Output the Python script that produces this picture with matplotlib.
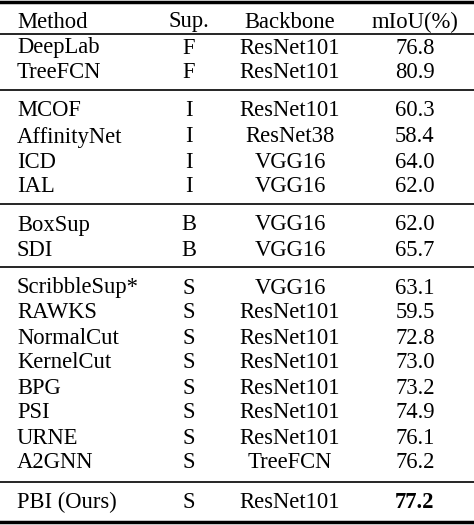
import matplotlib.pyplot as plt

methods = ["DeepLab", "TreeFCN", "MCOF", "AffinityNet", "ICD", "IAL", "BoxSup", "SDI",
           "ScribbleSup*", "RAWKS", "NormalCut", "KernelCut", "BPG", "PSI", "URNE", "A2GNN",
           "PBI (Ours)"]
sup = ["F", "F", "I", "I", "I", "I", "B", "B", "S", "S", "S", "S", "S", "S", "S", "S", "S"]
backbone = ["ResNet101", "ResNet101", "ResNet101", "ResNet38", "VGG16", "VGG16", "VGG16", "VGG16",
            "VGG16", "ResNet101", "ResNet101", "ResNet101", "ResNet101", "ResNet101", "ResNet101",
            "TreeFCN", "ResNet101"]
miou = ["76.8", "80.9", "60.3", "58.4", "64.0", "62.0", "62.0", "65.7", "63.1", "59.5", "72.8",
        "73.0", "73.2", "74.9", "76.1", "76.2", "77.2"]
headers = ["Method", "Sup.", "Backbone", "mIoU(%)"]

# row centres in pixels
row_y = [46, 71, 109, 135, 160, 185, 223, 248, 286, 311, 336, 361, 386, 411, 436, 461, 500]
rules = [(1.5, 2.5), (34, 1.2), (90, 1.2), (204, 1.2), (267, 1.2), (482, 1.2), (522, 2.5)]

plt.rcParams['font.family'] = ['Liberation Serif', 'DejaVu Serif']
fig = plt.figure(figsize=(4.74, 5.25), dpi=100)
ax = fig.add_axes([0, 0, 1, 1])
ax.set_xlim(0, 474)
ax.set_ylim(525, 0)
ax.axis('off')

fs = 16.3
dy = 2
col_x = [17, 189, 290, 415]
ax.text(col_x[0], 20 + dy, headers[0], fontsize=fs, ha='left', va='center')
for x, h in zip(col_x[1:], headers[1:]):
    ax.text(x, 20 + dy, h, fontsize=fs, ha='center', va='center')

for i, y in enumerate(row_y):
    y = y + dy
    ax.text(col_x[0], y, methods[i], fontsize=fs, ha='left', va='center')
    ax.text(col_x[1], y, sup[i], fontsize=fs, ha='center', va='center')
    ax.text(col_x[2], y, backbone[i], fontsize=fs, ha='center', va='center')
    bold = 'bold' if methods[i] == "PBI (Ours)" else 'normal'
    ax.text(col_x[3], y, miou[i], fontsize=fs, ha='center', va='center', fontweight=bold)

for y, lw in rules:
    ax.plot([0, 474], [y, y], color='black', lw=lw)

fig.savefig("out.png", dpi=100)
